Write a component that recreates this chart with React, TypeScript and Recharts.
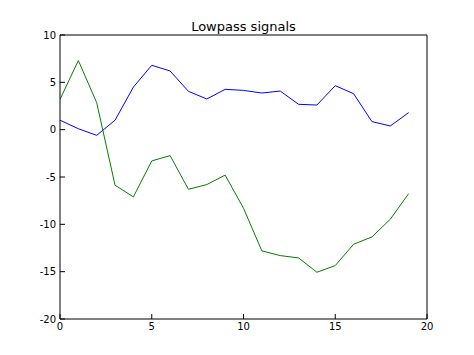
import React from "react";
import { LineChart, Line, XAxis, YAxis } from "recharts";

const xs = [0, 1, 2, 3, 4, 5, 6, 7, 8, 9, 10, 11, 12, 13, 14, 15, 16, 17, 18, 19];
const blueSeries = [1.0, 0.1, -0.6, 1.0, 4.5, 6.8, 6.2, 4.05, 3.24, 4.26, 4.15, 3.87, 4.08, 2.68, 2.6, 4.65, 3.8, 0.85, 0.39, 1.8];
const greenSeries = [3.2, 7.3, 2.85, -5.87, -7.1, -3.3, -2.74, -6.3, -5.8, -4.8, -8.3, -12.8, -13.3, -13.55, -15.06, -14.36, -12.1, -11.33, -9.46, -6.76];
const xTicks = [0, 5, 10, 15, 20];
const yTicks = [-20, -15, -10, -5, 0, 5, 10];

const data = xs.map((x, i) => ({ x, blue: blueSeries[i], green: greenSeries[i] }));

const font = "'DejaVu Sans', sans-serif";
const tickStyle = { fill: "#000", fontSize: 10, fontFamily: font };

export default function App() {
  return (
    <div style={{ position: "absolute", left: 0, top: 0, width: 474, height: 355, background: "#fff" }}>
      <div
        style={{
          position: "absolute",
          left: 60,
          width: 367,
          top: 19,
          textAlign: "center",
          fontFamily: font,
          fontSize: 13,
          color: "#000",
        }}
      >
        Lowpass signals
      </div>
      <LineChart
        width={474}
        height={355}
        data={data}
        margin={{ top: 34, right: 46, left: 0, bottom: 0 }}
      >
        <XAxis
          dataKey="x"
          type="number"
          domain={[0, 20]}
          ticks={xTicks}
          allowDataOverflow
          height={36}
          stroke="#000"
          tickSize={-5}
          tickMargin={9}
          tick={tickStyle}
        />
        <XAxis
          xAxisId="top"
          dataKey="x"
          orientation="top"
          type="number"
          domain={[0, 20]}
          ticks={xTicks}
          allowDataOverflow
          height={1}
          stroke="#000"
          tickSize={-5}
          tick={false}
        />
        <YAxis
          type="number"
          domain={[-20, 10]}
          ticks={yTicks}
          allowDataOverflow
          width={60}
          stroke="#000"
          tickSize={-5}
          tickMargin={9}
          tick={tickStyle}
        />
        <YAxis
          yAxisId="right"
          orientation="right"
          type="number"
          domain={[-20, 10]}
          ticks={yTicks}
          allowDataOverflow
          width={1}
          stroke="#000"
          tickSize={-5}
          tick={false}
        />
        {/* invisible series so the top and right frame axes get drawn */}
        <Line
          xAxisId="top"
          yAxisId="right"
          dataKey="blue"
          stroke="none"
          dot={false}
          legendType="none"
          isAnimationActive={false}
        />
        <Line
          type="linear"
          dataKey="blue"
          stroke="#0000ff"
          strokeWidth={1}
          dot={false}
          isAnimationActive={false}
        />
        <Line
          type="linear"
          dataKey="green"
          stroke="#008000"
          strokeWidth={1}
          dot={false}
          isAnimationActive={false}
        />
      </LineChart>
    </div>
  );
}
